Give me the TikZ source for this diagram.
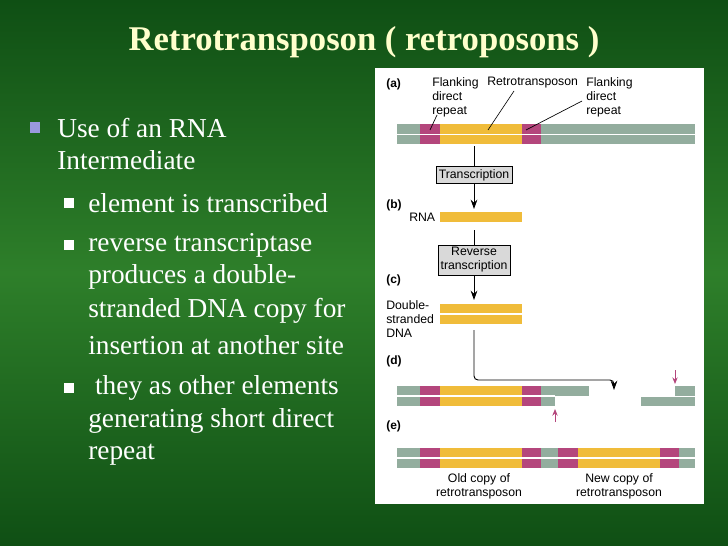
\documentclass[tikz,border=0pt]{standalone}
\usepackage{fontspec}
\setmainfont{Liberation Serif}
\newfontfamily\figfont{Liberation Sans}
\usetikzlibrary{arrows.meta}
\definecolor{bgA}{HTML}{0F4F14}
\definecolor{bgB}{HTML}{2E7F2A}
\definecolor{flank}{HTML}{93AD9E}
\definecolor{rep}{HTML}{B4467C}
\definecolor{retro}{HTML}{F0BC3A}
\definecolor{titlec}{HTML}{FFFFCC}
\definecolor{bul}{HTML}{9999DD}
\tikzset{
 lab/.style={font=\figfont\fontsize{9.2}{10.5}\selectfont, align=left, inner sep=0pt},
 plab/.style={font=\figfont\bfseries\fontsize{9}{10}\selectfont, inner sep=0pt, anchor=west},
 procbox/.style={draw=black, fill=gray!30, font=\figfont\fontsize{9.2}{10.5}\selectfont, align=center, inner sep=2pt},
 body/.style={font=\fontsize{20.5}{24}\selectfont, text=white, anchor=west, inner sep=0pt},
 flow/.style={-{Stealth[length=7pt,width=5pt]}, line width=0.7pt},
 redar/.style={-{Stealth[length=5pt,width=4pt]}, draw=rep, line width=0.7pt},
}
\newcommand{\seg}[4]{\fill[#1] (#2,#3) rectangle (#4,#3+20);}
\begin{document}
\begin{tikzpicture}[x=0.75pt,y=-0.75pt]
\useasboundingbox (0,0) rectangle (728,546);
\shade[top color=bgA, bottom color=bgA, middle color=bgB] (0,0) rectangle (728,546);
\node[font=\bfseries\fontsize{26}{30}\selectfont, text=titlec] (title) at (364,42) {Retrotransposon ( retroposons )};
% bullets
\fill[bul] (30,122) rectangle (40,133);
\node[body] (b1) at (57,128) {Use of an RNA};
\node[body] (b1b) at (57,160) {Intermediate};
\foreach \yy in {203,245,388}{\fill[white] (64,\yy-5) rectangle (74,\yy+5);}
\node[body] (s1) at (88,203) {element is transcribed};
\node[body] (s2) at (88,245) {reverse transcriptase};
\node[body] (s2b) at (88,277) {produces a double-};
\node[body] (s2c) at (88,311) {stranded DNA copy for};
\node[body] (s2d) at (88,345) {insertion at another site};
\node[body] (s3) at (88,388) {\ they as other elements};
\node[body] (s3b) at (88,421) {generating short direct};
\node[body] (s3c) at (88,455) {repeat};
% panel
\fill[white] (375,68) rectangle (704,504);
\node[plab] (pa) at (386,84) {(a)};
\node[plab] (pb) at (386,205) {(b)};
\node[plab] (pc) at (386,280) {(c)};
\node[plab] (pd) at (386,361) {(d)};
\node[plab] (pe) at (386,426) {(e)};
% (a)
\seg{flank}{397}{124}{420}\seg{rep}{420}{124}{440}\seg{retro}{440}{124}{522}\seg{rep}{522}{124}{541}\seg{flank}{541}{124}{695}
\draw[white, line width=0.8pt] (397,134.5) -- (695,134.5);
\node[lab, anchor=north west] (fl1) at (432,77) {Flanking\\direct\\repeat};
\node[lab, anchor=north west] (rt) at (487,77) {Retrotransposon};
\node[lab, anchor=north west] (fl2) at (586,77) {Flanking\\direct\\repeat};
\coordinate (p1) at (430,130); \coordinate (p2) at (488,130); \coordinate (p3) at (526,130);
\draw[line width=0.5pt] (437,115) -- (p1);
\draw[line width=0.5pt] (514,91) -- (p2);
\draw[line width=0.5pt] (582,101) -- (p3);
% transcription
\node[procbox] (tr) at (474,175) {Transcription};
\coordinate (ta) at (474,146);
\draw[line width=0.7pt] (ta) -- (tr.north);
\coordinate (rnaTop) at (474,209);
\draw[flow] (tr.south) -- (rnaTop);
\node[lab, anchor=west] (rna) at (409,217) {RNA};
\fill[retro] (440,212) rectangle (522,222);
\coordinate (rb) at (474,230);
\node[procbox] (rev) at (474,260) {Reverse\\transcription};
\draw[line width=0.7pt] (rb) -- (rev.north);
\coordinate (dsTop) at (474,300);
\draw[flow] (rev.south) -- (dsTop);
\node[lab, anchor=north west] (ds) at (386,300) {Double-\\stranded\\DNA};
\fill[retro] (440,304) rectangle (522,324);
\draw[white, line width=0.8pt] (440,314) -- (522,314);
\coordinate (dsB) at (474,330); \coordinate (tgt) at (614,390);
\draw[flow, rounded corners=3pt] (dsB) -- (474,380) -- (614,380) -- (tgt);
% (d)
\seg{flank}{397}{386}{420}\seg{rep}{420}{386}{440}\seg{retro}{440}{386}{522}\seg{rep}{522}{386}{541}
\fill[flank] (541,386) rectangle (589,396);
\fill[flank] (541,396) rectangle (555,406);
\draw[white, line width=0.8pt] (397,396) -- (555,396);
\fill[flank] (675,386) rectangle (695,396);
\fill[flank] (641,397) rectangle (695,406);
\coordinate (r1a) at (555,422); \coordinate (r1b) at (555,409);
\draw[redar] (r1a) -- (r1b);
\coordinate (r2a) at (675,370); \coordinate (r2b) at (675,384);
\draw[redar] (r2a) -- (r2b);
% (e)
\seg{flank}{397}{448}{420}\seg{rep}{420}{448}{440}\seg{retro}{440}{448}{522}\seg{rep}{522}{448}{541}\seg{flank}{541}{448}{558}\seg{rep}{558}{448}{578}\seg{retro}{578}{448}{660}\seg{rep}{660}{448}{679}\seg{flank}{679}{448}{695}
\draw[white, line width=0.8pt] (397,458) -- (695,458);
\node[lab, align=center, anchor=north] (old) at (479,473) {Old copy of\\retrotransposon};
\node[lab, align=center, anchor=north] (new) at (619,473) {New copy of\\retrotransposon};
\end{tikzpicture}
\end{document}
